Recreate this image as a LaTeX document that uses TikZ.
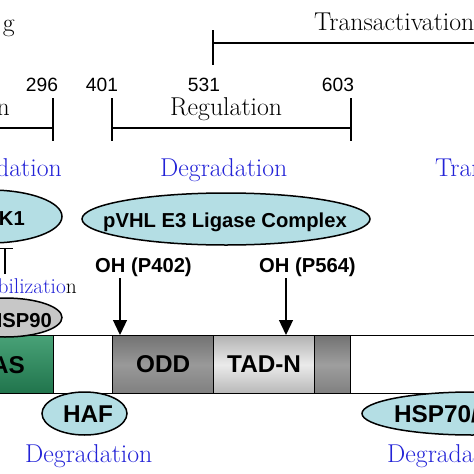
\documentclass[tikz,border=0pt]{standalone}
\usepackage{fontspec}
\usetikzlibrary{arrows.meta, shapes.geometric}
\newfontfamily\arialfont{Liberation Sans}
\definecolor{degblue}{RGB}{35,35,215}
\definecolor{protcyan}{RGB}{180,222,228}
\definecolor{pasgreen}{RGB}{40,145,95}

\tikzset{
    headtext/.style = {inner sep=0pt, font=\fontsize{25.8pt}{30pt}\selectfont},
    bluetext/.style = {headtext, text=degblue},
    numtext/.style = {inner sep=0pt, font=\arialfont\fontsize{19.2pt}{22pt}\selectfont},
    boldtext/.style = {inner sep=0pt, font=\arialfont\bfseries\fontsize{20.2pt}{24pt}\selectfont},
    domtext/.style = {inner sep=0pt, font=\arialfont\bfseries\fontsize{24.3pt}{28pt}\selectfont},
    protein/.style = {ellipse, draw, line width=1.5pt, fill=protcyan, inner sep=0pt},
    dombox/.style = {rectangle, draw, line width=1.2pt, anchor=north west, minimum height=58pt, inner sep=0pt},
    bracket/.style = {line width=1.3pt}
}

\begin{document}
\begin{tikzpicture}[x=1pt, y=-1pt]
    % Frame of the picture
    \useasboundingbox (0,0) rectangle (474,474);
    \clip (0,0) rectangle (474,474);

    % Headings
    \node[headtext, anchor=base east] (bind) at (15,31) {g};
    \node[headtext, anchor=base west] (trans) at (314,30) {Transactivation};
    \node[headtext, anchor=base east] (left) at (10,115) {n};
    \node[headtext, anchor=base west] (reg) at (170,115) {Regulation};

    % Brackets
    \draw[bracket] (213,30) -- (213,65);
    \draw[bracket] (213,43) -- (480,43);
    \foreach \t in {53,112,351}
    {
        \draw[bracket] (\t,98) -- (\t,141);
    }
    \draw[bracket] (-5,128) -- (53,128);
    \draw[bracket] (112,128) -- (351,128);

    % Residue numbers
    \node[numtext, anchor=base] (n296) at (42,91) {296};
    \node[numtext, anchor=base] (n401) at (102,91) {401};
    \node[numtext, anchor=base] (n531) at (204,91) {531};
    \node[numtext, anchor=base] (n603) at (338,91) {603};

    % Blue labels
    \node[bluetext, anchor=base east] (degl) at (62,176) {Degradation};
    \node[bluetext, anchor=base west] (degm) at (160,176) {Degradation};
    \node[bluetext, anchor=base west] (transb) at (435,176) {Transactivation};
    \node[bluetext, anchor=base west] (degb) at (25,462) {Degradation};
    \node[bluetext, anchor=base west] (degr) at (387,462) {Degradation};
    \node[bluetext, anchor=base east, font=\fontsize{21.4pt}{25pt}\selectfont] (stab) at (77,293) {Stabilizatio{\color{black}n}};

    % Protein bar
    \node[dombox, minimum width=490pt, fill=white] (bar) at (-5,335) {};
    \node[dombox, minimum width=58pt, top color=pasgreen!85!white, bottom color=pasgreen!80!black] (pas) at (-5,335) {};
    \node[dombox, minimum width=101pt, top color=black!55, bottom color=black!50, middle color=black!40] (odd) at (112,335) {};
    \node[dombox, minimum width=101pt, top color=black!30, bottom color=black!28, middle color=black!8] (tad) at (213,335) {};
    \node[dombox, minimum width=36pt, top color=black!55, bottom color=black!50, middle color=black!38] (dark) at (314,335) {};
    \node[domtext, anchor=base east] (pastxt) at (25,373) {PAS};
    \node[domtext] at (odd.center) {ODD};
    \node[domtext] at (tad.center) {TAD-N};

    % Binding partners
    \node[protein, minimum width=144pt, minimum height=53pt] (rack) at (-10,216.5) {};
    \node[boldtext, anchor=base east] (racktxt) at (25,225) {K1};
    \node[protein, minimum width=288pt, minimum height=52pt] (vhl) at (226,219) {};
    \node[boldtext, anchor=base] (vhltxt) at (225,227) {pVHL E3 Ligase Complex};
    \node[protein, fill=black!22, minimum width=114pt, minimum height=39pt] (hsp) at (5,317.5) {};
    \node[boldtext, anchor=base east] (hsptxt) at (52,327) {HSP90};
    \node[protein, minimum width=85pt, minimum height=43pt] (haf) at (84.5,413.5) {};
    \node[domtext] at (88,414) {HAF};
    \node[protein, minimum width=220pt, minimum height=43pt] (hspb) at (472,413.5) {};
    \node[domtext, anchor=west] (hspbtxt) at (394,414) {HSP70/};

    % Hydroxylation sites
    \node[boldtext, anchor=base west] (oh402) at (95,272) {OH (P402)};
    \node[boldtext, anchor=base west] (oh564) at (259,272) {OH (P564)};
    \coordinate (s402) at (120,278);
    \coordinate (p402) at (120,335);
    \coordinate (s564) at (286,278);
    \coordinate (p564) at (286,335);
    \draw[line width=1.3pt, -{Triangle[length=15pt, width=14pt]}] (s402) -- (p402);
    \draw[line width=1.3pt, -{Triangle[length=15pt, width=14pt]}] (s564) -- (p564);

    % Inhibition of K1 by HSP90
    \coordinate (i1) at (5,274);
    \coordinate (i2) at (5,248);
    \draw[line width=1.3pt, -{Bar[width=16pt, line width=1.3pt]}] (i1) -- (i2);
\end{tikzpicture}
\end{document}
